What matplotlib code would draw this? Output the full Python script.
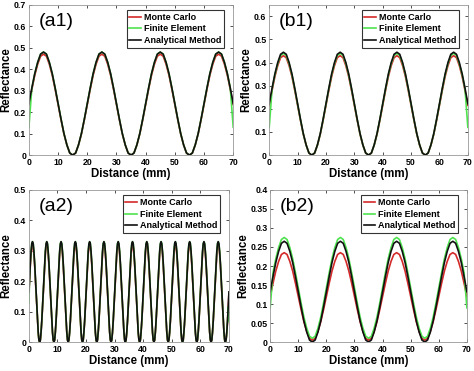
import numpy as np
import matplotlib.pyplot as plt

plt.rcParams['font.family'] = ['Liberation Sans', 'DejaVu Sans']

# one period of the reflectance profile (normalised 0..1)
profile = [0.5, 0.65, 0.79, 0.90, 0.98, 1.0, 0.98, 0.90, 0.79, 0.65,
           0.5, 0.35, 0.21, 0.10, 0.02, 0.0, 0.02, 0.10, 0.21, 0.35]

labels = ['Monte Carlo', 'Finite Element', 'Analytical Method']
colors = ['#d42a2a', '#4ee34e', '#111111']

panels = ['(a1)', '(b1)', '(a2)', '(b2)']
period = [20, 20, 5, 20]          # mm
peaks = {'(a1)': [0.47, 0.48, 0.48],
         '(b1)': [0.43, 0.44, 0.445],
         '(a2)': [0.32, 0.33, 0.33],
         '(b2)': [0.235, 0.275, 0.265]}
troughs = {'(a1)': [0.0, 0.0, 0.0],
           '(b1)': [0.0, 0.0, 0.0],
           '(a2)': [0.0, 0.0, 0.0],
           '(b2)': [0.005, 0.01, 0.0]}
green_ends = {'(a1)': [0.13, 0.13], '(b1)': [0.12, 0.12],
              '(a2)': [0.13, 0.07], '(b2)': [0.09, 0.09]}
ylims = [0.7, 0.65, 0.5, 0.4]
ysteps = [0.1, 0.1, 0.1, 0.05]

boxes = [[0.061, 0.582, 0.431, 0.405],
         [0.568, 0.582, 0.419, 0.405],
         [0.061, 0.078, 0.422, 0.410],
         [0.570, 0.078, 0.415, 0.410]]

fig = plt.figure(figsize=(4.74, 3.71), dpi=100)

for i, name in enumerate(panels):
    ax = fig.add_axes(boxes[i])
    n_per = len(profile)
    step = period[i] / n_per
    x = np.arange(0, 70 + step / 2, step)
    shape = np.resize(profile, len(x))
    for j in range(3):
        lo, hi = troughs[name][j], peaks[name][j]
        y = lo + (hi - lo) * shape
        if j == 1:
            y[0], y[-1] = green_ends[name]
        ax.plot(x, y, color=colors[j], lw=1.2, label=labels[j])
    ax.set_xlim(0, 70)
    ax.set_ylim(0, ylims[i])
    ax.set_xticks(np.arange(0, 71, 10))
    yt = np.arange(0, ylims[i] + 1e-9, ysteps[i])
    ax.set_yticks(yt)
    ax.set_yticklabels(['0' if v == 0 else f'{v:g}' for v in yt])
    ax.tick_params(direction='in', top=True, right=True, length=2.5,
                   labelsize=6.3, pad=2, width=0.6, colors='#333333')
    for lab in ax.get_xticklabels() + ax.get_yticklabels():
        lab.set_fontweight('bold')
        lab.set_color('black')
    for sp in ax.spines.values():
        sp.set_linewidth(0.6)
        sp.set_color('#999999')
    ax.set_xlabel('Distance (mm)', fontsize=8.3, fontweight='bold', labelpad=1)
    ax.set_ylabel('Reflectance', fontsize=8.3, fontweight='bold', labelpad=1)
    ax.text(0.05, 0.89, name, transform=ax.transAxes, fontsize=14,
            va='center', ha='left')
    leg = ax.legend(loc='upper right', bbox_to_anchor=(0.955, 0.965),
                    frameon=True, fancybox=False, handlelength=1.3,
                    handletextpad=0.3, borderpad=0.3, labelspacing=0.3,
                    borderaxespad=0.0,
                    prop={'weight': 'bold', 'size': 6.5})
    leg.get_frame().set_edgecolor('black')
    leg.get_frame().set_linewidth(0.8)

fig.savefig('out.png', dpi=100)
